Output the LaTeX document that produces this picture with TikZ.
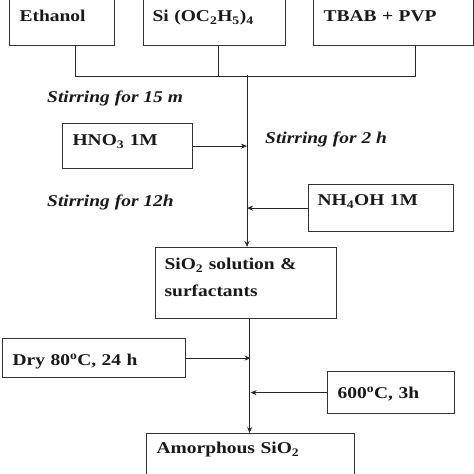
\documentclass[tikz,border=0pt]{standalone}
\usepackage{fontspec}
\setmainfont{Liberation Serif}[FakeStretch=1.18]
\usepackage{tikz}
\usetikzlibrary{arrows.meta}

\begin{document}
\begin{tikzpicture}[x=1pt, y=-1pt,
    stage/.style ={draw=black!80, line width=1.2pt, anchor=north west, inner ysep=0pt,
      align=left, text=black!90, font=\fontsize{16.5pt}{27pt}\selectfont\bfseries},
    remark/.style ={anchor=base west, inner sep=0pt, text=black!90,
      font=\fontsize{16.5pt}{20pt}\selectfont\bfseries\itshape},
    flow/.style ={black!85, line width=0.8pt},
    feed/.style ={black!85, line width=0.8pt, -{Stealth[length=6pt,width=5pt]}}]
   \useasboundingbox (0,0) rectangle (474,474);

   \node[stage, inner xsep=10pt, text width=85pt, text height=31pt, text depth=24pt] (eth) at (9,-10) {Ethanol};
   \node[stage, inner xsep=9pt, text width=124pt, text height=31pt, text depth=24pt] (teos) at (143,-10) {Si (OC\textsubscript{2}H\textsubscript{5})\textsubscript{4}};
   \node[stage, inner xsep=10pt, text width=140pt, text height=31pt, text depth=24pt] (tbab) at (313,-10) {TBAB + PVP};
   \node[stage, inner xsep=10pt, text width=110pt, text height=22pt, text depth=23pt] (hno) at (62,123) {HNO\textsubscript{3} 1M};
   \node[stage, inner xsep=9pt, text width=127pt, text height=21pt, text depth=26pt] (nh) at (308,184) {NH\textsubscript{4}OH 1M};
   \node[stage, inner xsep=9pt, text width=163pt, text height=22pt, text depth=49pt] (sio) at (155,247) {SiO\textsubscript{2} solution \&\\ surfactants};
   \node[stage, inner xsep=10pt, text width=163pt, text height=27pt, text depth=12pt] (dry) at (2,338) {Dry 80\textsuperscript{o}C, 24 h};
   \node[stage, inner xsep=10pt, text width=107pt, text height=27pt, text depth=15pt] (hot) at (327,371) {600\textsuperscript{o}C, 3h};
   \node[stage, inner xsep=10pt, text width=188pt, text height=20pt, text depth=40pt] (amo) at (146,433) {Amorphous SiO\textsubscript{2}};

   \node[remark] (st1) at (47,102) {Stirring for 15 m};
   \node[remark] (st2) at (265,143) {Stirring for 2 h};
   \node[remark] (st3) at (47,206) {Stirring for 12h};

   \coordinate (join) at (247,75);

   \draw[flow] ([xshift=13.5pt]eth.south) -- ++(0,30) -| ([xshift=22pt]tbab.south);
   \draw[flow] ([xshift=4pt]teos.south) -- ++(0,30);
   \draw[feed] (join) -- (sio.north -| join);
   \draw[feed] (hno.east) -- (hno.east -| join);
   \draw[feed] (nh.west) -- (nh.west -| join);
   \draw[feed] ([xshift=3.5pt]sio.south) -- ([xshift=3.5pt]sio.south |- amo.north);
   \draw[feed] (dry.east) -- (dry.east -| amo.north);
   \draw[feed] (hot.west) -- (hot.west -| amo.north);
 \end{tikzpicture}
\end{document}
